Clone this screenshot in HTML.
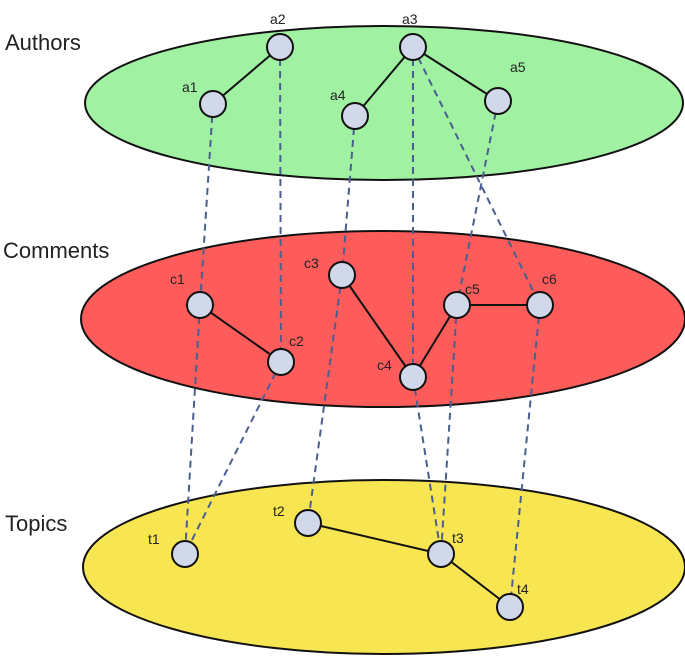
<!DOCTYPE html>
<html><head><meta charset="utf-8"><style>
html,body{margin:0;padding:0;background:#fff;}
svg text{font-family:"Liberation Sans",sans-serif;fill:#222;}
</style></head><body>
<svg width="685" height="662" viewBox="0 0 685 662" xmlns="http://www.w3.org/2000/svg">
<ellipse cx="384" cy="103" rx="299" ry="77" fill="#a0f2a2" stroke="#111" stroke-width="2"/>
<ellipse cx="383" cy="319" rx="302" ry="88" fill="#fe5c5b" stroke="#111" stroke-width="2"/>
<ellipse cx="384" cy="567" rx="301" ry="87" fill="#f7e551" stroke="#111" stroke-width="2"/>
<g stroke="#4a5f8f" stroke-width="2" stroke-dasharray="7,5" fill="none">
<line x1="213" y1="104" x2="200" y2="305"/>
<line x1="280" y1="47" x2="281" y2="362"/>
<line x1="355" y1="116" x2="342" y2="275"/>
<line x1="413" y1="47" x2="413" y2="377"/>
<line x1="413" y1="47" x2="540" y2="305"/>
<line x1="498" y1="101" x2="457" y2="305"/>
<line x1="200" y1="305" x2="185" y2="554"/>
<line x1="281" y1="362" x2="185" y2="554"/>
<line x1="342" y1="275" x2="308" y2="523"/>
<line x1="413" y1="377" x2="441" y2="554"/>
<line x1="457" y1="305" x2="441" y2="554"/>
<line x1="540" y1="305" x2="510" y2="607"/>
</g>
<g stroke="#111" stroke-width="2">
<line x1="213" y1="104" x2="280" y2="47"/>
<line x1="355" y1="116" x2="413" y2="47"/>
<line x1="413" y1="47" x2="498" y2="101"/>
<line x1="200" y1="305" x2="281" y2="362"/>
<line x1="342" y1="275" x2="413" y2="377"/>
<line x1="413" y1="377" x2="457" y2="305"/>
<line x1="457" y1="305" x2="540" y2="305"/>
<line x1="308" y1="523" x2="441" y2="554"/>
<line x1="441" y1="554" x2="510" y2="607"/>
</g>
<g fill="#d0d8ea" stroke="#111" stroke-width="2">
<circle cx="213" cy="104" r="13"/><circle cx="280" cy="47" r="13"/><circle cx="413" cy="47" r="13"/>
<circle cx="355" cy="116" r="13"/><circle cx="498" cy="101" r="13"/>
<circle cx="200" cy="305" r="13"/><circle cx="281" cy="362" r="13"/><circle cx="342" cy="275" r="13"/>
<circle cx="413" cy="377" r="13"/><circle cx="457" cy="305" r="13"/><circle cx="540" cy="305" r="13"/>
<circle cx="185" cy="554" r="13"/><circle cx="308" cy="523" r="13"/><circle cx="441" cy="554" r="13"/>
<circle cx="510" cy="607" r="13"/>
</g>
<g font-size="22">
<text x="5" y="50">Authors</text>
<text x="3" y="258">Comments</text>
<text x="5" y="531">Topics</text>
</g>
<g font-size="14">
<text x="182" y="92">a1</text><text x="270" y="24">a2</text><text x="402" y="24">a3</text>
<text x="330" y="100">a4</text><text x="510" y="72">a5</text>
<text x="170" y="284">c1</text><text x="289" y="346">c2</text><text x="304" y="268">c3</text>
<text x="377" y="370">c4</text><text x="465" y="294">c5</text><text x="542" y="284">c6</text>
<text x="148" y="544">t1</text><text x="273" y="516">t2</text><text x="452" y="543">t3</text>
<text x="517" y="594">t4</text>
</g>
</svg>
</body></html>
